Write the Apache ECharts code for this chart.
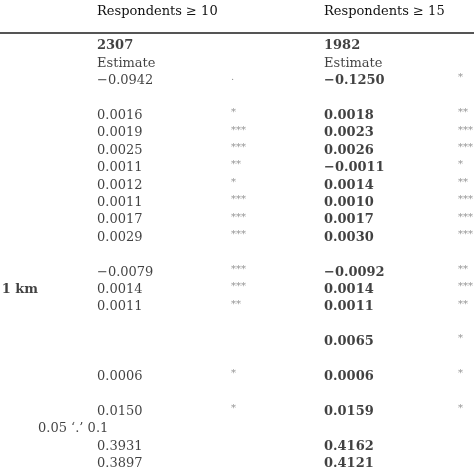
<!DOCTYPE html><html><head><meta charset="utf-8">
<script src="https://cdn.jsdelivr.net/npm/echarts@6/dist/echarts.min.js"></script>
<style>html,body{margin:0;background:#fff}#c{width:474px;height:474px}</style></head><body><div id="c"></div>
<script>
// table rows (blank strings = empty spacer rows)
const rowLabels = ['','','','','','','','','','','','','','','n 1 km','','','','','','','','0.05 \u2018.\u2019 0.1','',''];
const col1Values = ['2307','Estimate','\u22120.0942','','0.0016','0.0019','0.0025','0.0011','0.0012','0.0011','0.0017','0.0029','','\u22120.0079','0.0014','0.0011','','','','0.0006','','0.0150','','0.3931','0.3897'];
const col1Stars  = ['','','.','','*','***','***','**','*','***','***','***','','***','***','**','','','','*','','*','','',''];
const col2Values = ['1982','Estimate','\u22120.1250','','0.0018','0.0023','0.0026','\u22120.0011','0.0014','0.0010','0.0017','0.0030','','\u22120.0092','0.0014','0.0011','','0.0065','','0.0006','','0.0159','','0.4162','0.4121'];
const col2Stars  = ['','','*','','**','***','***','*','**','***','***','***','','**','***','**','','*','','*','','*','','',''];
const headers = ['Respondents \u2265 10','Respondents \u2265 15'];

const font = '"DejaVu Serif","Liberation Serif",serif';
const cats = rowLabels.map((_, i) => 'r' + i);
function items(x, arr, style) {
  const out = [];
  arr.forEach((t, i) => { if (t !== '') out.push({ value: [x, cats[i]], label: Object.assign({ show: true, formatter: t, fontFamily: font, fontSize: 13, color: '#111', position: 'right', distance: 0 }, style(t, i)) }); });
  return out;
}
const base = { type: 'scatter', symbolSize: 0, silent: true, clip: false };
const chart = echarts.init(document.getElementById('c'));
chart.setOption({
  animation: false,
  grid: { left: 0, right: 0, top: 37.3, height: 435 },
  xAxis: { type: 'value', min: 0, max: 474, show: false },
  yAxis: { type: 'category', data: cats, inverse: true, show: false },
  graphic: [
    { type: 'text', left: 97, top: 5, style: { text: headers[0], font: '13px ' + font, fill: '#111' } },
    { type: 'text', left: 324, top: 5, style: { text: headers[1], font: '13px ' + font, fill: '#111' } },
    { type: 'line', shape: { x1: 0, y1: 33, x2: 474, y2: 33 }, style: { stroke: '#555', lineWidth: 2 } }
  ],
  series: [
    Object.assign({}, base, { data: items(38, rowLabels, (t) => t === 'n 1 km' ? { fontWeight: 'bold', position: 'left' } : { position: 'right' }) }),
    Object.assign({}, base, { data: items(97, col1Values, (t, i) => ({ fontWeight: i === 0 ? 'bold' : 'normal' })) }),
    Object.assign({}, base, { data: items(231, col1Stars, () => ({ fontSize: 10, color: '#777', offset: [0, -3] })) }),
    Object.assign({}, base, { data: items(324, col2Values, (t, i) => ({ fontWeight: i === 1 ? 'normal' : 'bold' })) }),
    Object.assign({}, base, { data: items(458, col2Stars, () => ({ fontSize: 10, color: '#777', offset: [0, -3] })) })
  ]
});
</script></body></html>
